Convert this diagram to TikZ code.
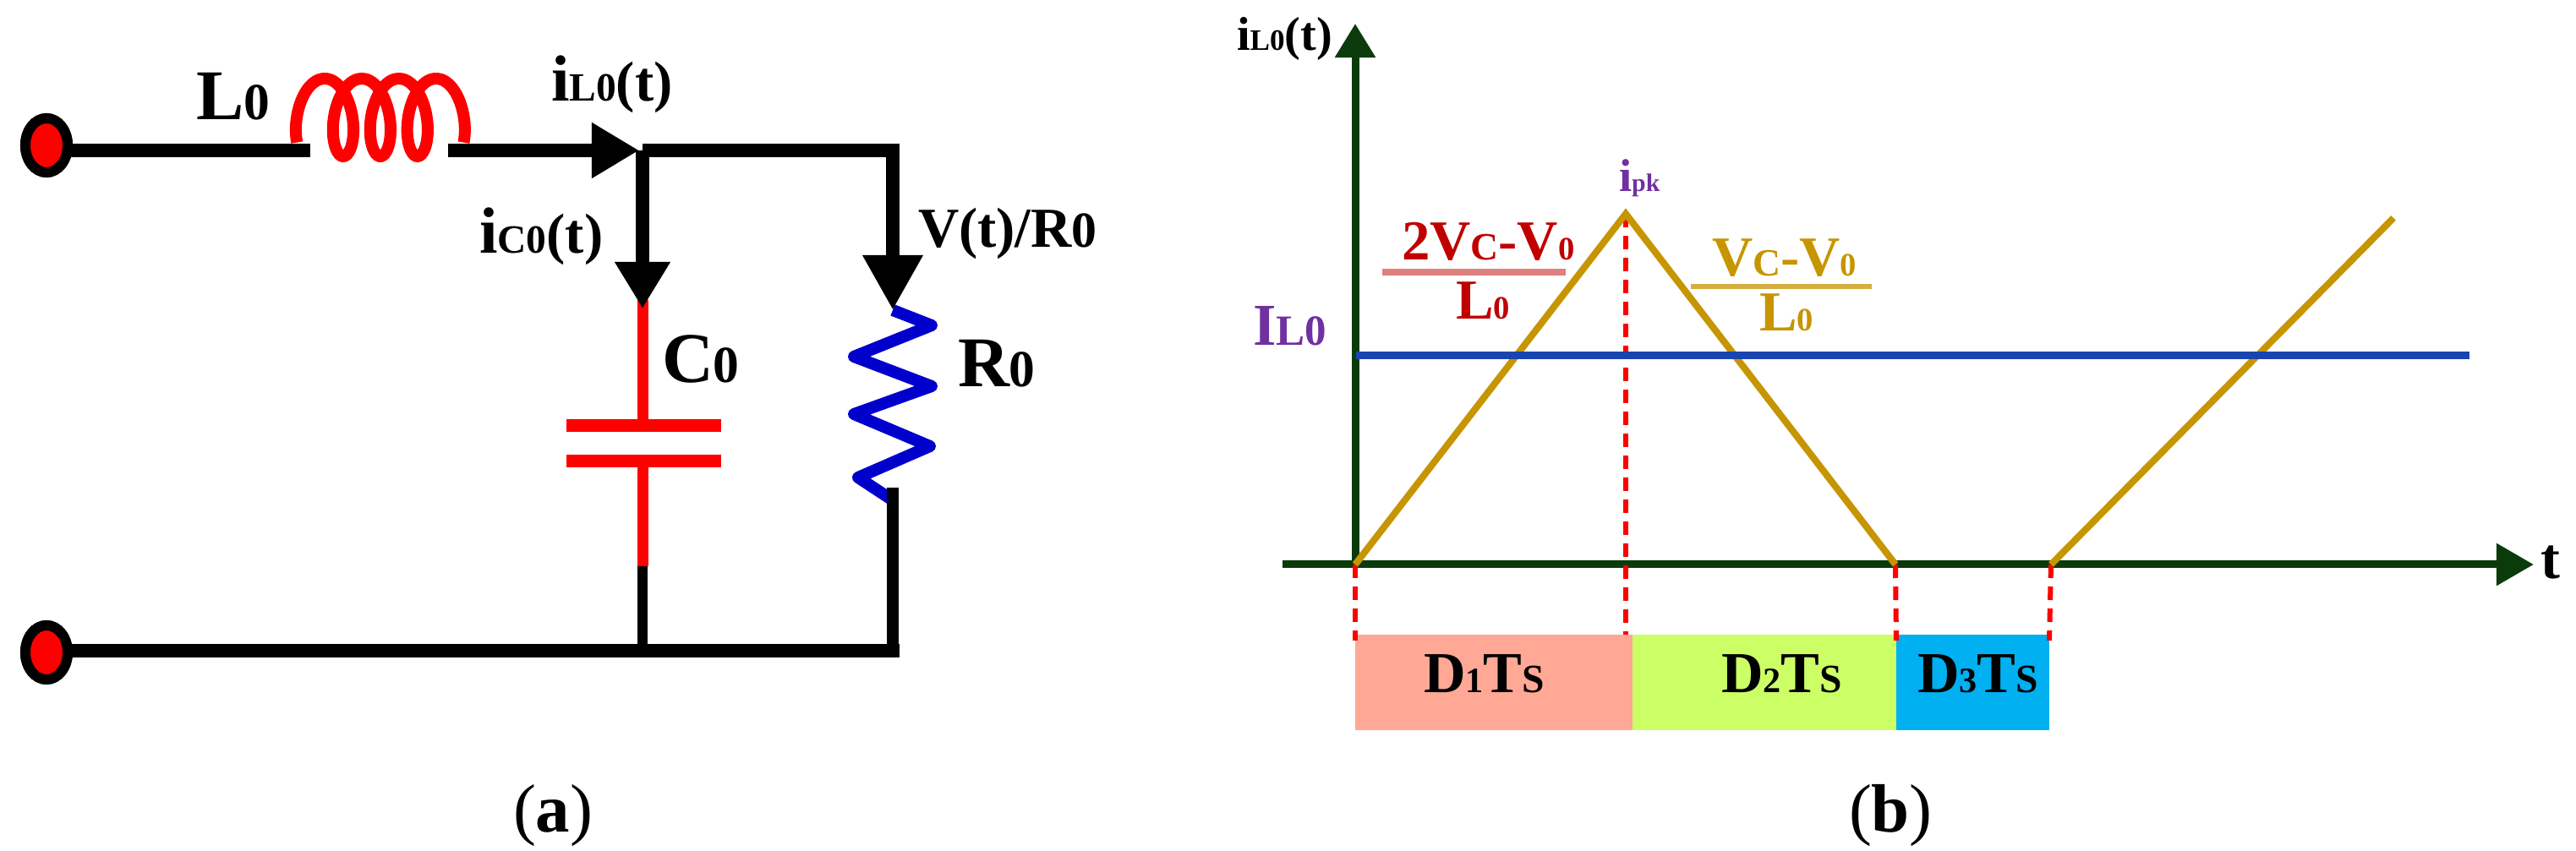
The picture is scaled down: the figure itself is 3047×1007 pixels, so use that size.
\documentclass[tikz,border=0pt]{standalone}
\usepackage{fontspec}
\setmainfont{Liberation Serif}
\usetikzlibrary{arrows.meta,positioning,calc,shapes}
\definecolor{plotgreen}{HTML}{0B3B0B}
\definecolor{plotgold}{HTML}{C69500}
\definecolor{plotblue}{HTML}{1A45B0}
\definecolor{plotpurple}{HTML}{7030A0}
\definecolor{plotred}{HTML}{C00000}
\definecolor{resblue}{HTML}{0000CC}
\newcommand{\tx}[2]{{\fontsize{#1}{#1}\selectfont\bfseries #2}}
\tikzset{
	wire/.style={line width=0.16cm, black},
	redwire/.style={line width=0.13cm, red},
	plate/.style={line width=0.15cm, red},
	axis/.style={line width=0.09cm, plotgreen},
	drop/.style={line width=0.06cm, red, dash pattern=on 0.16cm off 0.10cm},
	term/.style={ellipse, fill=red, draw=black, line width=0.12cm, minimum width=0.5cm, minimum height=0.64cm, inner sep=0pt},
	lbl/.style={anchor=base west, inner sep=0pt, outer sep=0pt},
	duty/.style={minimum height=1.13cm, inner sep=0pt, outer sep=0pt, anchor=north west}
}
\begin{document}
\begin{tikzpicture}[x=0.01cm,y=-0.01cm]
		\useasboundingbox (0,0) rectangle (3047,1007);
		% circuit
		\node at (55,172) [term] (T1) {};
		\node at (55,772) [term] (T2) {};
		\coordinate (W1) at (55,178);
		\coordinate (W2) at (55,770);
		\coordinate (L1) at (367,178);
		\coordinate (L2) at (530,178);
		\coordinate (Lt) at (756,178);
		\coordinate (J1) at (760,178);
		\coordinate (J2) at (1056,178);
		\coordinate (J3) at (1064,178);
		\coordinate (A1) at (760,365);
		\coordinate (A2) at (1056,367);
		\coordinate (B1) at (760,770);
		\coordinate (B2) at (1056,770);
		\coordinate (B3) at (1064,770);
		\coordinate (C0) at (760,355);
		\coordinate (C1) at (760,497);
		\coordinate (C2) at (760,553);
		\coordinate (C3) at (760,670);
		\coordinate (R1) at (1056,577);
		\coordinate (R2) at (1056,592);
		\draw [red, line width=0.14cm] plot [domain=-130:1210, samples=160, smooth] ({384+0.122*\x+22*sin(\x)},{139-46*cos(\x)});
		\draw [redwire] (C0) -- (C1);
		\draw [redwire] (C2) -- (C3);
		\draw [plate] (670,504) -- (853,504);
		\draw [plate] (670,546) -- (853,546);
		\draw [resblue, line width=0.14cm, line join=round] (A2) -- (1102,385) -- (1010,422) -- (1102,457) -- (1010,490) -- (1100,528) -- (1015,565) -- (R2);
		\draw [wire] (W1) -- (L1);
		\draw [wire, -{Triangle[length=0.56cm,width=0.62cm]}] (L2) -- (Lt);
		\draw [wire] (J1) -- (J3);
		\draw [wire, -{Triangle[length=0.55cm,width=0.62cm]}] (J1) -- (A1);
		\draw [wire, -{Triangle[length=0.65cm,width=0.67cm]}] (J2) -- (A2);
		\draw [wire] (W2) -- (B3);
		\draw [line width=0.12cm] (C3) -- (B1);
		\draw [line width=0.14cm] (R1) -- (B2);
		\node at (T1) [term] {};
		\node at (T2) [term] {};
		\node [lbl] at (232,142) (Lname) {\tx{24}{L}\tx{17.5}{0}};
		\node [lbl] at (652,120) (iL) {\tx{22}{i}\tx{13.5}{L0}\tx{19}{(t)}};
		\node [lbl] at (567,300) (iC) {\tx{22}{i}\tx{13.5}{C0}\tx{19}{(t)}};
		\node [lbl] at (1086,293) (vr) {\tx{19}{V(t)/R}\tx{17}{0}};
		\node [lbl] at (783,453) (Cname) {\tx{24}{C}\tx{17.5}{0}};
		\node [lbl] at (1133,458) (Rname) {\tx{24}{R}\tx{17.5}{0}};
		\node [lbl] at (607,985) (capa) {\fontsize{23}{23}\selectfont(\textbf{a})};
		% waveform
		\node [duty, fill={rgb,255:red,255;green,168;blue,149}, minimum width=3.28cm] at (1603,751) (D1) {};
		\node [duty, fill={rgb,255:red,204;green,255;blue,102}, minimum width=3.12cm] at (1931,751) (D2) {};
		\node [duty, fill={rgb,255:red,0;green,176;blue,240}, minimum width=1.81cm] at (2243,751) (D3) {};
		\coordinate (O) at (1603,668);
		\coordinate (Yt) at (1603,28);
		\coordinate (Xs) at (1517,668);
		\coordinate (Xt) at (2997,668);
		\coordinate (Pk) at (1923,253);
		\coordinate (Z1) at (2242,668);
		\coordinate (Z2) at (2426,668);
		\coordinate (Pe) at (2831,258);
		\coordinate (M1) at (1604,421);
		\coordinate (M2) at (2921,421);
		\coordinate (E0) at (1603,758);
		\coordinate (E1) at (1923,751);
		\coordinate (E2) at (2243,758);
		\coordinate (E3) at (2424,758);
		\draw [axis, -{Triangle[length=0.40cm,width=0.46cm]}] (O) -- (Yt);
		\draw [axis, -{Triangle[length=0.44cm,width=0.48cm]}] (Xs) -- (Xt);
		\draw [drop] (Pk) -- (E1);
		\draw [drop] (O) -- (E0);
		\draw [drop] (Z1) -- (E2);
		\draw [drop] (Z2) -- (E3);
		\draw [plotgold, line width=0.08cm] (O) -- (Pk) -- (Z1);
		\draw [plotgold, line width=0.08cm] (Z2) -- (Pe);
		\draw [plotblue, line width=0.09cm] (M1) -- (M2);
		\node [lbl] at (1463,60) (iLb) {\tx{16}{i}\tx{10}{L0}\tx{16}{(t)}};
		\node [lbl, text=plotpurple] at (1482,409) (ILb) {\tx{20}{I}\tx{14.5}{L0}};
		\node [lbl, text=plotpurple] at (1915,227) (ipk) {\tx{15.5}{i}\tx{8.5}{pk}};
		\node [lbl, text=plotred] at (1658,308) (num1) {\tx{19}{2V}\tx{13}{C}\tx{19}{-V}\tx{11}{0}};
		\node [lbl, text=plotred] at (1722,378) (den1) {\tx{19}{L}\tx{11}{0}};
		\draw [plotred!50, line width=0.08cm] (1635,322) -- (1852,322);
		\node [lbl, text=plotgold] at (2025,327) (num2) {\tx{19}{V}\tx{13}{C}\tx{19}{-V}\tx{11}{0}};
		\node [lbl, text=plotgold] at (2081,392) (den2) {\tx{19}{L}\tx{11}{0}};
		\draw [plotgold!75, line width=0.06cm] (2000,339) -- (2214,339);
		\node [lbl] at (1684,820) (d1) {\tx{19.5}{D}\tx{12}{1}\tx{19.5}{T}\tx{13.5}{S}};
		\node [lbl] at (2036,820) (d2) {\tx{19.5}{D}\tx{12}{2}\tx{19.5}{T}\tx{13.5}{S}};
		\node [lbl] at (2268,820) (d3) {\tx{19.5}{D}\tx{12}{3}\tx{19.5}{T}\tx{13.5}{S}};
		\node [lbl] at (3005,685) (tname) {\tx{19.5}{t}};
		\node [lbl] at (2187,985) (capb) {\fontsize{23}{23}\selectfont(\textbf{b})};
		\end{tikzpicture}
\end{document}
